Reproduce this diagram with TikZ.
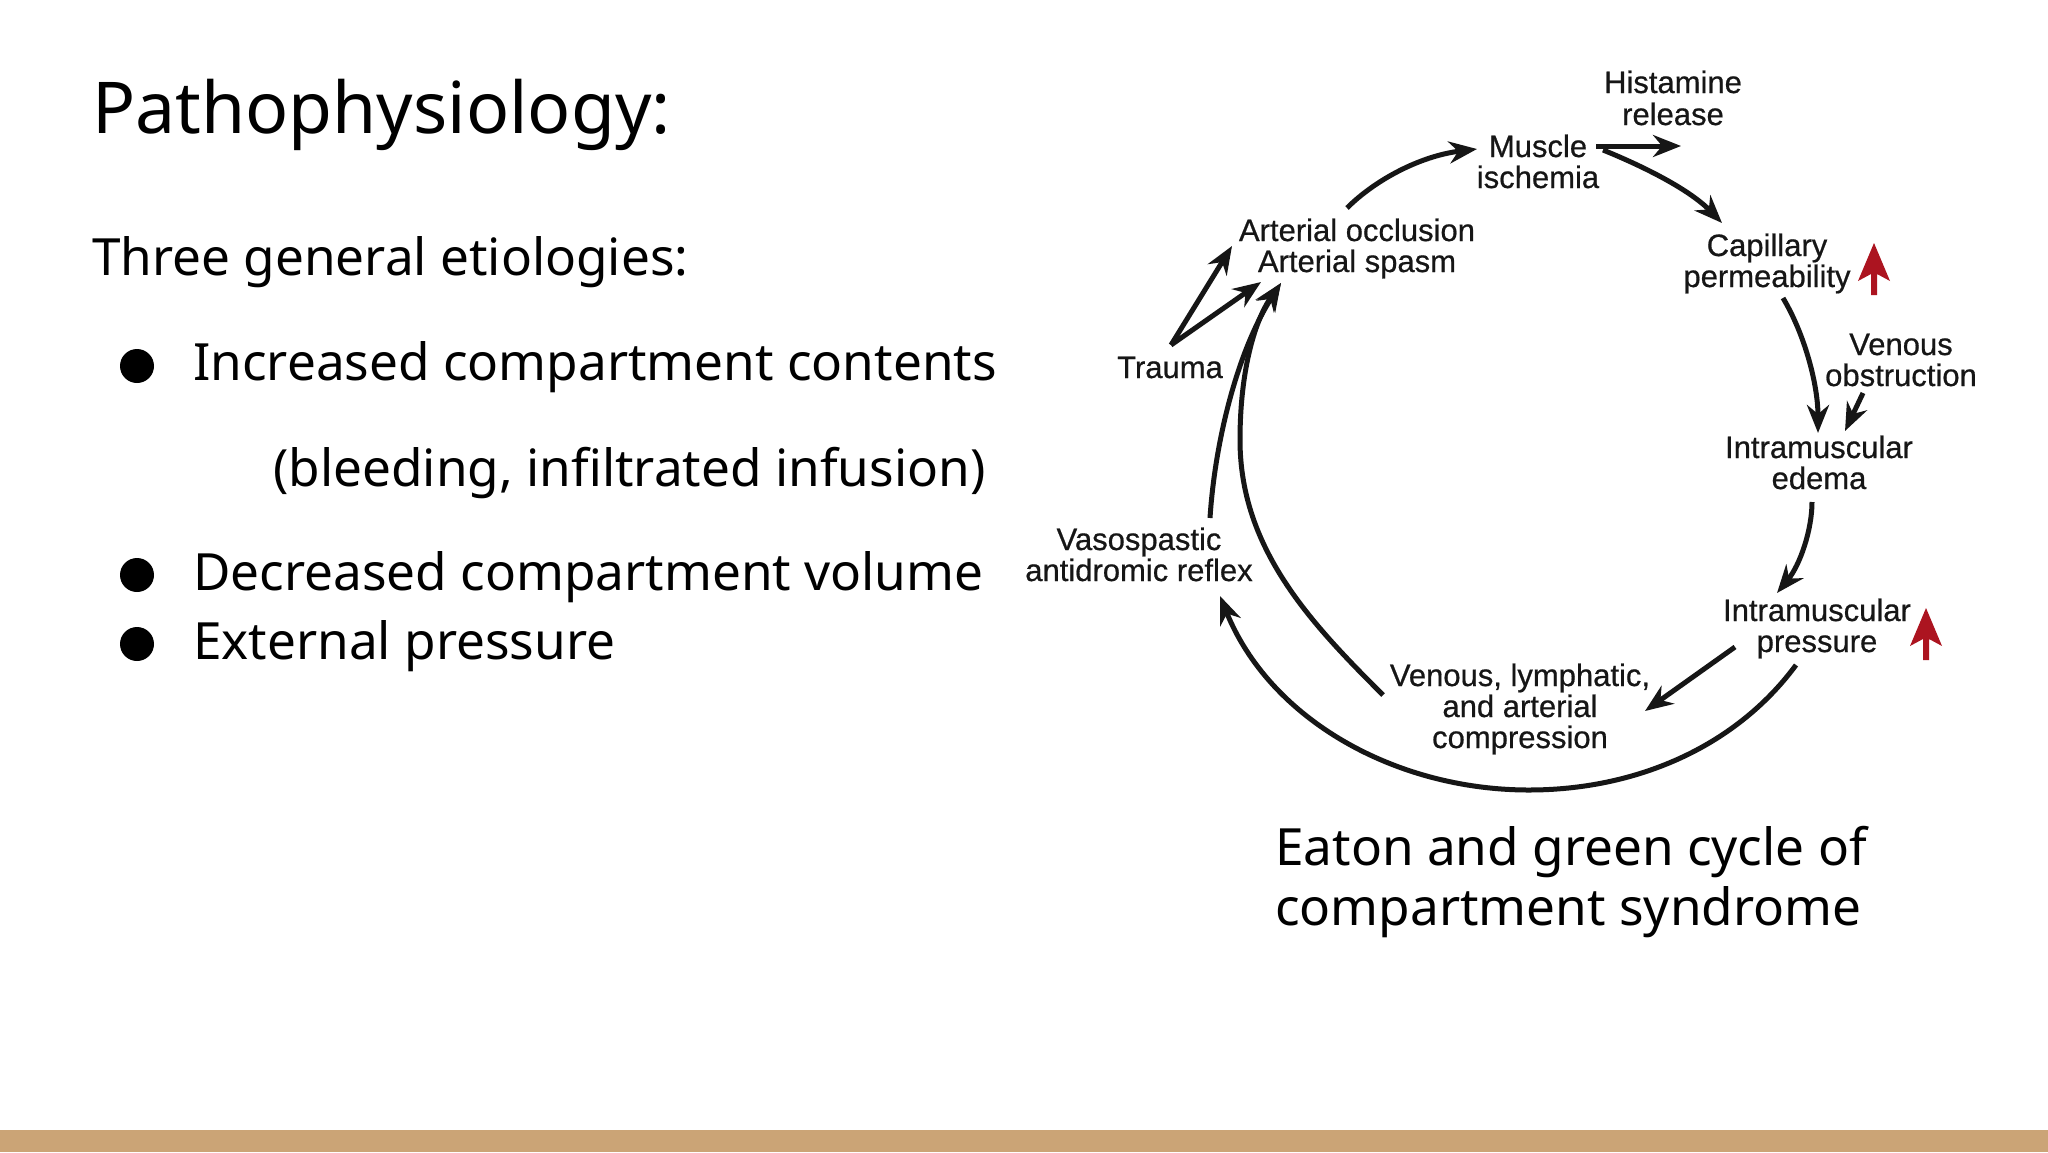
\documentclass[tikz,border=0pt]{standalone}
\usepackage{fontspec}
\setmainfont{Noto Sans}
\newfontfamily\diagfont[FakeBold=0.6]{Liberation Sans}
\usetikzlibrary{arrows.meta}
\definecolor{barbrown}{RGB}{203,164,118}
\definecolor{upred}{RGB}{172,20,32}
\definecolor{diagink}{RGB}{22,22,22}
\begin{document}
\begin{tikzpicture}[x=1pt,y=-1pt,
  slidetxt/.style={anchor=base west,inner sep=0pt,font=\fontsize{51.3}{62}\selectfont},
  titletxt/.style={anchor=base west,inner sep=0pt,font=\fontsize{71.5}{86}\selectfont},
  dtxt/.style={anchor=base,inner sep=0pt,text=diagink,font=\diagfont\fontsize{31}{31}\selectfont},
  flow/.style={draw=diagink,line width=5pt,-{Stealth[length=28pt,width=22pt]}},
  bulletdot/.style={circle,fill=black,minimum size=34pt,inner sep=0pt},
  redup/.pic={\fill[upred] (0,0) -- (16,38) -- (3,31) -- (3,52) -- (-3,52) -- (-3,31) -- (-16,38) -- cycle;}]
\useasboundingbox (0,0) rectangle (2048,1152);
\fill[white] (0,0) rectangle (2048,1152);
\fill[barbrown] (0,1130) rectangle (2048,1152);

% left text
\node[titletxt] (title) at (92,133) {Pathophysiology:};
\node[slidetxt] (intro) at (92,275) {Three general etiologies:};
\node[bulletdot] (b1) at (137,366) {};
\node[slidetxt] (i1) at (193,380) {Increased compartment contents};
\node[slidetxt] (i1b) at (273,486) {(bleeding, infiltrated infusion)};
\node[bulletdot] (b2) at (137,575) {};
\node[slidetxt] (i2) at (193,590) {Decreased compartment volume};
\node[bulletdot] (b3) at (137,644) {};
\node[slidetxt] (i3) at (193,659) {External pressure};

% caption
\node[slidetxt] (capt1) at (1275,865) {Eaton and green cycle of};
\node[slidetxt] (capt2) at (1275,925) {compartment syndrome};

% diagram labels
\node[dtxt] (his) at (1673,93) {Histamine};
\node[dtxt] (his2) at (1673,125) {release};
\node[dtxt] (mus) at (1538,157) {Muscle};
\node[dtxt] (mus2) at (1538,188) {ischemia};
\node[dtxt] (art) at (1357,241) {Arterial occlusion};
\node[dtxt] (art2) at (1357,272) {Arterial spasm};
\node[dtxt] (cap) at (1767,256) {Capillary};
\node[dtxt] (cap2) at (1767,287) {permeability};
\node[dtxt] (ven) at (1901,355) {Venous};
\node[dtxt] (ven2) at (1901,386) {obstruction};
\node[dtxt] (tra) at (1170,378) {Trauma};
\node[dtxt] (ede) at (1819,458) {Intramuscular};
\node[dtxt] (ede2) at (1819,489) {edema};
\node[dtxt] (vas) at (1139,550) {Vasospastic};
\node[dtxt] (vas2) at (1139,581) {antidromic reflex};
\node[dtxt] (pre) at (1817,621) {Intramuscular};
\node[dtxt] (pre2) at (1817,652) {pressure};
\node[dtxt] (com) at (1520,686) {Venous, lymphatic,};
\node[dtxt] (com2) at (1520,717) {and arterial};
\node[dtxt] (com3) at (1520,748) {compression};

% red increase arrows
\pic at (1874,243) {redup};
\pic at (1926,608) {redup};

% connector end points
\coordinate (art-out) at (1347,208);
\coordinate (mus-in) at (1477,149);
\coordinate (mus-out1) at (1596,146);
\coordinate (his-in) at (1681,146);
\coordinate (mus-out2) at (1603,150);
\coordinate (cap-in) at (1722,223);
\coordinate (cap-out) at (1783,298);
\coordinate (ede-in1) at (1818,433);
\coordinate (ven-out) at (1863,393);
\coordinate (ede-in2) at (1845,431);
\coordinate (ede-out) at (1812,502);
\coordinate (pre-in) at (1777,593);
\coordinate (pre-out1) at (1735,647);
\coordinate (com-in) at (1645,711);
\coordinate (pre-out2) at (1796,665);
\coordinate (arcbot) at (1529,790);
\coordinate (vas-in) at (1220,596);
\coordinate (vas-out) at (1210,518);
\coordinate (art-in) at (1281,283);
\coordinate (com-out) at (1383,695);
\coordinate (turn) at (1240,440);
\coordinate (tra-out) at (1171,345);
\coordinate (art-in1) at (1232,246);
\coordinate (art-in2) at (1261,282);

% connectors
\draw[flow] (art-out) .. controls (1375,180) and (1420,156) .. (mus-in);
\draw[flow] (mus-out1) -- (his-in);
\draw[flow] (mus-out2) .. controls (1645,167) and (1690,190) .. (cap-in);
\draw[flow] (cap-out) .. controls (1805,335) and (1818,385) .. (ede-in1);
\draw[flow] (ven-out) -- (ede-in2);
\draw[flow] (ede-out) .. controls (1812,530) and (1800,565) .. (pre-in);
\draw[flow] (pre-out1) -- (com-in);
\draw[flow] (pre-out2) .. controls (1734,749) and (1633,790) .. (arcbot) .. controls (1396,790) and (1270,720) .. (vas-in);
\draw[flow] (vas-out) .. controls (1215,440) and (1238,350) .. (art-in);
\draw[flow] (com-out) .. controls (1313,625) and (1240,550) .. (turn) .. controls (1240,370) and (1255,320) .. (art-in);
\draw[flow] (tra-out) -- (art-in1);
\draw[flow] (tra-out) -- (art-in2);
\end{tikzpicture}
\end{document}
